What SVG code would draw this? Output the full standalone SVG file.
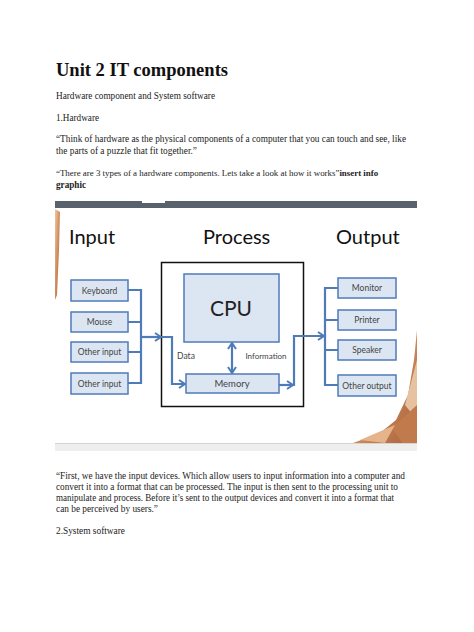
<svg xmlns="http://www.w3.org/2000/svg" width="474" height="632" viewBox="0 0 474 632">
<defs>
<style>
.body{font-family:"Liberation Serif","Times New Roman",serif;font-size:9.6px;fill:#222}
.bold{font-weight:bold}
.head{font-family:"Liberation Serif",serif;font-size:19px;font-weight:bold;fill:#111}
.big{font-family:Lato,"Open Sans",sans-serif;font-size:20px;fill:#111}
.box{fill:#dce6f2;stroke:#4f7bb8;stroke-width:1.5}
.lbl{font-family:Lato,"Open Sans",sans-serif;font-size:8.5px;fill:#444;text-anchor:middle}
.con{fill:none;stroke:#4f7bb8;stroke-width:2.2}
</style>
<marker id="arr" viewBox="0 0 8 10" refX="7" refY="5" markerWidth="8" markerHeight="10" markerUnits="userSpaceOnUse" orient="auto-start-reverse">
<path d="M1,1 L7,5 L1,9" fill="none" stroke="#4f7bb8" stroke-width="2"/>
</marker>
<linearGradient id="br" x1="0" y1="0" x2="1" y2="1">
<stop offset="0" stop-color="#f0c9a4"/>
<stop offset="0.5" stop-color="#cf8c5c"/>
<stop offset="1" stop-color="#a65e38"/>
</linearGradient>
</defs>
<rect width="474" height="632" fill="#fff"/>
<text class="head" x="56" y="76" textLength="172" lengthAdjust="spacingAndGlyphs">Unit 2 IT components</text>
<text class="body" x="56" y="99" textLength="159" lengthAdjust="spacingAndGlyphs">Hardware component and System software</text>
<text class="body" x="56" y="121" textLength="43" lengthAdjust="spacingAndGlyphs">1.Hardware</text>
<text class="body" x="56" y="142" textLength="350" lengthAdjust="spacingAndGlyphs">“Think of hardware as the physical components of a computer that you can touch and see, like</text>
<text class="body" x="56" y="154" textLength="141" lengthAdjust="spacingAndGlyphs">the parts of a puzzle that fit together.”</text>
<text class="body" x="56" y="176" style="font-size:8.9px">“There are 3 types of a hardware components. Lets take a look at how it works”<tspan font-weight="bold">insert info</tspan></text>
<text class="body bold" x="56" y="188" textLength="30" lengthAdjust="spacingAndGlyphs">graphic</text>
<g id="slide">
<rect x="55" y="208" width="362" height="235" fill="#fff"/>
<rect x="55" y="201" width="362" height="7" fill="#58626d"/>
<rect x="142" y="201" width="23" height="2" fill="#fff"/>
<rect x="55" y="443" width="362" height="8" fill="#eeeeee"/>
<line x1="55" y1="443.5" x2="417" y2="443.5" stroke="#d4d4d4" stroke-width="1"/>
<polygon points="55,209 60,212 59,250 57,295 55,300" fill="url(#br)"/>
<polygon points="417,330 414,360 408,395 396,420 380,433 353,443 417,443" fill="url(#br)"/>
<polygon points="417,360 405,405 417,420" fill="#e6c2a0"/>
<polygon points="392,428 417,405 417,443 402,443" fill="#c07a4c"/>
<polygon points="360,440 395,425 385,443" fill="#e6b48a"/>
<text class="big" x="69" y="244">Input</text>
<text class="big" x="203" y="244">Process</text>
<text class="big" x="336" y="244">Output</text>
</g>
<g id="process">
<rect x="161.5" y="262.5" width="142" height="144" fill="none" stroke="#111" stroke-width="1.5"/>
</g>
<g id="cpu">
<rect class="box" x="184" y="274" width="95" height="68"/>
<text x="231" y="316" font-family="Lato,'Open Sans',sans-serif" font-size="21" fill="#222" text-anchor="middle">CPU</text>
</g>
<g id="memory">
<rect class="box" x="186" y="374" width="93" height="19"/>
<text class="lbl" x="232" y="387" style="font-size:9.5px">Memory</text>
</g>
<g id="keyboard"><rect class="box" x="71" y="280" width="57" height="21"/><text class="lbl" x="99.5" y="294">Keyboard</text></g>
<g id="mouse"><rect class="box" x="71" y="312" width="57" height="20"/><text class="lbl" x="99.5" y="325">Mouse</text></g>
<g id="other-input-1"><rect class="box" x="71" y="342" width="57" height="20"/><text class="lbl" x="99.5" y="355">Other input</text></g>
<g id="other-input-2"><rect class="box" x="71" y="373" width="57" height="21"/><text class="lbl" x="99.5" y="387">Other input</text></g>
<g id="monitor"><rect class="box" x="338" y="278" width="58" height="20"/><text class="lbl" x="367" y="291">Monitor</text></g>
<g id="printer"><rect class="box" x="338" y="310" width="58" height="20"/><text class="lbl" x="367" y="323">Printer</text></g>
<g id="speaker"><rect class="box" x="338" y="340" width="58" height="20"/><text class="lbl" x="367" y="353">Speaker</text></g>
<g id="other-output"><rect class="box" x="338" y="375" width="58" height="21"/><text class="lbl" x="367" y="389">Other output</text></g>
<g id="connectors">
<path class="con" d="M128,290 H141 M128,322 H141 M128,352 H141 M128,383 H141 M141,289 V384"/>
<path class="con" d="M141,337 H161" marker-end="url(#arr)"/>
<path class="con" d="M161,337 H172 V384 H185" marker-end="url(#arr)"/>
<path class="con" d="M232,343 V373" marker-start="url(#arr)" marker-end="url(#arr)"/>
<path class="con" d="M279,385 H293" marker-end="url(#arr)"/>
<path class="con" d="M294,386 V336 H324" marker-end="url(#arr)"/>
<path class="con" d="M325,287 V386 M325,288 H338 M325,320 H338 M325,350 H338 M325,385 H338"/>
</g>
<text class="lbl" x="186" y="359">Data</text>
<text class="lbl" x="266" y="359" style="font-size:8px">Information</text>
<text class="body" x="56" y="479" textLength="349" lengthAdjust="spacingAndGlyphs">“First, we have the input devices. Which allow users to input information into a computer and</text>
<text class="body" x="56" y="490" textLength="342" lengthAdjust="spacingAndGlyphs">convert it into a format that can be processed. The input is then sent to the processing unit to</text>
<text class="body" x="56" y="501" textLength="338" lengthAdjust="spacingAndGlyphs">manipulate and process. Before it’s sent to the output devices and convert it into a format that</text>
<text class="body" x="56" y="512" textLength="102" lengthAdjust="spacingAndGlyphs">can be perceived by users.”</text>
<text class="body" x="56" y="534" textLength="69" lengthAdjust="spacingAndGlyphs">2.System software</text>
</svg>
